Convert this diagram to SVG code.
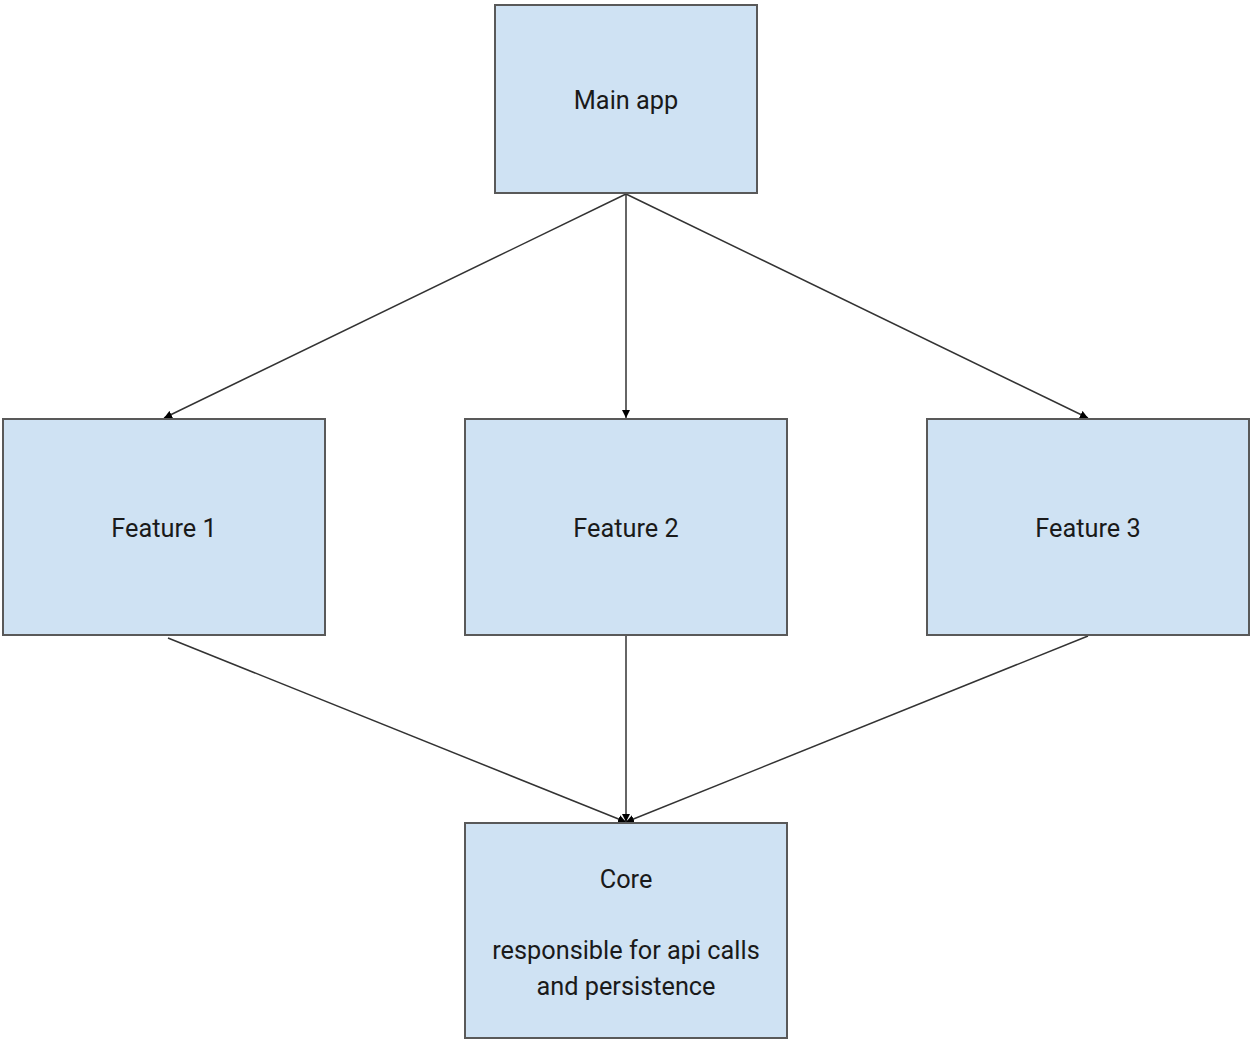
<svg xmlns="http://www.w3.org/2000/svg" width="1254" height="1046" viewBox="0 0 1254 1046">
<style>
.box{fill:#cfe2f3;stroke:#595959;stroke-width:2}
.lbl{font-family:Roboto,"Liberation Sans",sans-serif;font-size:25.3px;fill:#1a1a1a;text-anchor:middle}
.edge{stroke:#333;stroke-width:1.5;fill:none;marker-end:url(#arr)}
</style>
<defs>
<marker id="arr" viewBox="0 0 10 10" refX="10" refY="5" markerWidth="8" markerHeight="8" markerUnits="userSpaceOnUse" orient="auto">
<path d="M0,0 L10,5 L0,10 z" fill="#000"/>
</marker>
</defs>
<rect width="1254" height="1046" fill="#fff"/>
<g id="connectors">
<line class="edge" x1="626" y1="194" x2="164" y2="418"/>
<line class="edge" x1="626" y1="194" x2="626" y2="418"/>
<line class="edge" x1="626" y1="194" x2="1088" y2="418"/>
<line class="edge" x1="168" y1="638" x2="626" y2="822"/>
<line class="edge" x1="626" y1="636" x2="626" y2="822"/>
<line class="edge" x1="1088" y1="636" x2="626" y2="822"/>
</g>
<g id="main-app">
<rect class="box" x="495" y="5" width="262" height="188"/>
<text class="lbl" x="626" y="109">Main app</text>
</g>
<g id="feature-1">
<rect class="box" x="3" y="419" width="322" height="216"/>
<text class="lbl" x="164" y="537">Feature 1</text>
</g>
<g id="feature-2">
<rect class="box" x="465" y="419" width="322" height="216"/>
<text class="lbl" x="626" y="537">Feature 2</text>
</g>
<g id="feature-3">
<rect class="box" x="927" y="419" width="322" height="216"/>
<text class="lbl" x="1088" y="537">Feature 3</text>
</g>
<g id="core">
<rect class="box" x="465" y="823" width="322" height="215"/>
<text class="lbl" x="626" y="888">Core</text>
<text class="lbl" x="626" y="959">responsible for api calls</text>
<text class="lbl" x="626" y="995">and persistence</text>
</g>
</svg>
